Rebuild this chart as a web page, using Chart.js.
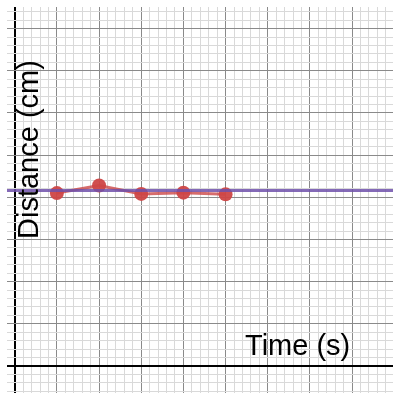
<!DOCTYPE html>
<html>
<head>
<style>html,body{margin:0;padding:0;background:#fff}#c{display:block}</style>
<script src="https://cdn.jsdelivr.net/npm/chart.js@4"></script>
</head>
<body>
<canvas id="c" width="400" height="400"></canvas>
<script>
// data
const times = [1, 2, 3, 4, 5];
const distances = [4.10, 4.28, 4.08, 4.11, 4.07];
const fitX = [-1, 10];
const fitY = [4.16, 4.16];

const xMin = -8 / 43.7, xMax = 392 / 43.7;
const yMin = -28 / 43.7, yMax = 372 / 43.7;

function gridColor(ctx) {
    const k = Math.round(ctx.tick.value * 5);
    if (k === 0) return '#000';
    return k % 5 === 0 ? '#8a8a8a' : '#d9d9d9';
}
function gridWidth(ctx) {
    return Math.round(ctx.tick.value * 5) === 0 ? 2 : 1;
}

// axis titles drawn inside the plot like the reference
const titles = {
    id: 'titles',
    afterDraw(chart) {
        const c = chart.ctx;
        c.save();
        c.fillStyle = '#000';
        c.font = '29px "Liberation Sans", Arial';
        c.textBaseline = 'middle';
        c.textAlign = 'left';
        c.fillText('Time (s)', 245, 347);
        c.translate(30, 239);
        c.rotate(-Math.PI / 2);
        c.fillText('Distance (cm)', 0, 0);
        c.restore();
    }
};

const axis = (min, max) => ({
    type: 'linear',
    min: min,
    max: max,
    offset: false,
    border: { display: false },
    ticks: { display: false, padding: 0 },
    grid: { color: gridColor, lineWidth: gridWidth, drawTicks: false, tickLength: 0 },
    afterBuildTicks(scale) {
        const ticks = [];
        for (let k = Math.ceil(min * 5); k <= Math.floor(max * 5); k++) ticks.push({ value: k / 5 });
        scale.ticks = ticks;
    },
    afterFit(scale) {
        scale.paddingLeft = scale.paddingRight = scale.paddingTop = scale.paddingBottom = 0;
        if (scale.isHorizontal()) scale.height = 0; else scale.width = 0;
    }
});

new Chart(document.getElementById('c').getContext('2d'), {
    type: 'scatter',
    data: {
        datasets: [{
            data: fitX.map((x, i) => ({ x: x, y: fitY[i] })),
            showLine: true,
            borderColor: 'rgba(110,80,170,0.85)',
            borderWidth: 3,
            pointRadius: 0
        }, {
            data: times.map((t, i) => ({ x: t, y: distances[i] })),
            showLine: true,
            borderColor: 'rgba(200,60,60,0.75)',
            borderWidth: 3,
            backgroundColor: 'rgba(205,70,70,0.95)',
            pointRadius: 7,
            pointBorderWidth: 0
        }]
    },
    options: {
        responsive: false,
        animation: false,
        layout: { padding: 0 },
        plugins: { legend: { display: false }, tooltip: { enabled: false } },
        scales: { x: axis(xMin, xMax), y: axis(yMin, yMax) }
    },
    plugins: [titles]
});
</script>
</body>
</html>
